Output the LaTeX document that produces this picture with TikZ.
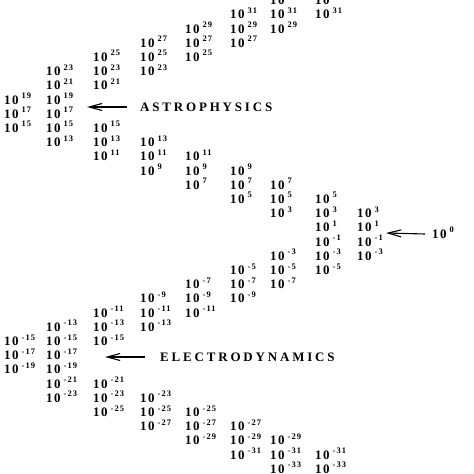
\documentclass[tikz,border=0pt]{standalone}
\usepackage{fontspec}
\setmainfont{Liberation Serif}
\newfontfamily\spacedfont[LetterSpace=12]{Liberation Serif Bold}
\newfontfamily\labelfont[LetterSpace=22]{Liberation Serif Bold}
\usetikzlibrary{arrows.meta}
\newcommand{\pw}[1]{{\fontsize{13}{13}\selectfont 10}\hspace{3bp}\raisebox{5.5bp}{\fontsize{8.5}{8.5}\selectfont #1}}
\tikzset{
  num/.style={inner sep=0pt, anchor=base west, font=\spacedfont},
  lbl/.style={inner sep=0pt, anchor=west, font=\labelfont\fontsize{13}{13}\selectfont},
  arr/.style={draw=black, line width=1.1bp, -{Straight Barb[length=13bp,width=7bp]}}
}
\begin{document}
\begin{tikzpicture}[x=1bp,y=-1bp]
\useasboundingbox (0,0) rectangle (474,474);
\foreach \c/\x/\lst in {
  0/4/{19,17,15,-15,-17,-19},
  1/46/{23,21,19,17,15,13,-13,-15,-17,-19,-21,-23},
  2/93/{25,23,21,15,13,11,-11,-13,-15,-21,-23,-25},
  3/140/{27,25,23,13,11,9,-9,-11,-13,-23,-25,-27},
  4/185/{29,27,25,11,9,7,-7,-9,-11,-25,-27,-29},
  5/230/{31,29,27,9,7,5,-5,-7,-9,-27,-29,-31},
  6/270/{33,31,29,7,5,3,-3,-5,-7,-29,-31,-33},
  7/315/{33,31,5,3,1,-1,-3,-5,-31,-33},
  8/357/{3,1,-1,-3}}{
  \foreach \e in \lst {
    \node[num] (c\c e\e) at (\x,{239-7.1*(\e)}) {\pw{\e}};
  }
}
% labels
\node[lbl] (astro) at (140,107) {ASTROPHYSICS};
\coordinate (astroTip) at (87,107);
\draw[arr, shorten <=13bp] (astro.west) -- (astroTip);

\node[lbl] (electro) at (160,357) {ELECTRODYNAMICS};
\coordinate (electroTip) at (105,357);
\draw[arr, shorten <=15bp] (electro.west) -- (electroTip);

\node[num] (unit) at (432,238) {\pw{0}};
\coordinate (unitTip) at (386,233);
\draw[arr] ([shift={(-7,1.5)}]unit.west) -- (unitTip);
\end{tikzpicture}
\end{document}
